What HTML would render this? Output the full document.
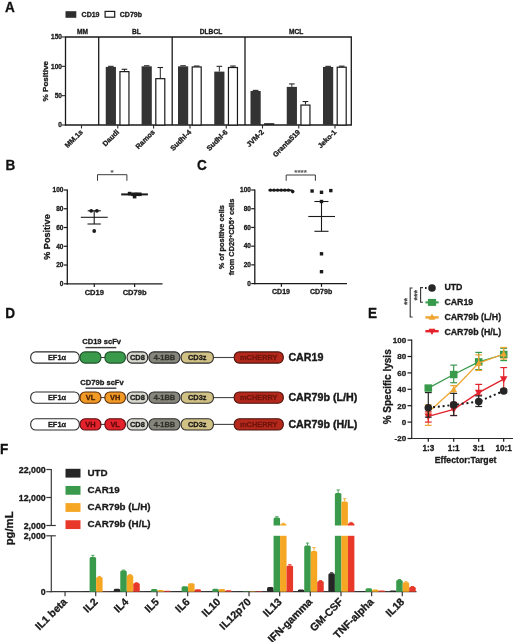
<!DOCTYPE html>
<html lang="en">
<head>
<meta charset="utf-8">
<title>Figure</title>
<style>
html,body{margin:0;padding:0;background:#fff;}
body{width:520px;height:642px;overflow:hidden;font-family:"Liberation Sans",sans-serif;}
svg{display:block;font-family:"Liberation Sans",sans-serif;filter:blur(0.35px);}
</style>
</head>
<body>
<svg width="520" height="642" viewBox="0 0 520 642">
<rect x="0" y="0" width="520" height="642" fill="#ffffff"/>
<text transform="translate(5.0 12.4) scale(0.925 1)" x="0" y="0" font-size="14.7" font-weight="bold" fill="#111" stroke="#111" stroke-width="0.3">A</text>
<text transform="translate(5.5 170.1) scale(0.925 1)" x="0" y="0" font-size="14.7" font-weight="bold" fill="#111" stroke="#111" stroke-width="0.3">B</text>
<text transform="translate(196.9 170.3) scale(0.925 1)" x="0" y="0" font-size="14.7" font-weight="bold" fill="#111" stroke="#111" stroke-width="0.3">C</text>
<text transform="translate(5.25 318.0) scale(0.925 1)" x="0" y="0" font-size="14.7" font-weight="bold" fill="#111" stroke="#111" stroke-width="0.3">D</text>
<text transform="translate(367.9 318.0) scale(0.925 1)" x="0" y="0" font-size="14.7" font-weight="bold" fill="#111" stroke="#111" stroke-width="0.3">E</text>
<text transform="translate(0.0 453.6) scale(0.925 1)" x="0" y="0" font-size="14.7" font-weight="bold" fill="#111" stroke="#111" stroke-width="0.3">F</text>
<rect x="65.50" y="11.20" width="10.80" height="6.60" fill="#2e2e2e" stroke="none" stroke-width="1" rx="0" />
<text x="81.60" y="16.60" font-size="7.0" text-anchor="start" fill="#1a1a1a" stroke="#1a1a1a" stroke-width="0.3" font-weight="bold" >CD19</text>
<rect x="105.10" y="11.40" width="9.60" height="5.80" fill="#fff" stroke="#1a1a1a" stroke-width="1.2" rx="0" />
<text x="119.80" y="16.60" font-size="7.0" text-anchor="start" fill="#1a1a1a" stroke="#1a1a1a" stroke-width="0.3" font-weight="bold" >CD79b</text>
<line x1="65.50" y1="36.40" x2="65.50" y2="125.60" stroke="#1a1a1a" stroke-width="1.3" />
<line x1="64.90" y1="125.00" x2="351.90" y2="125.00" stroke="#1a1a1a" stroke-width="1.3" />
<path d="M65.5 37.0H351.3V125.0" fill="none" stroke="#1a1a1a" stroke-width="1.3" stroke-linejoin="miter"/>
<line x1="98.70" y1="37.00" x2="98.70" y2="125.00" stroke="#1a1a1a" stroke-width="1.3" />
<line x1="172.20" y1="37.00" x2="172.20" y2="125.00" stroke="#1a1a1a" stroke-width="1.3" />
<line x1="245.00" y1="37.00" x2="245.00" y2="125.00" stroke="#1a1a1a" stroke-width="1.3" />
<line x1="61.50" y1="37.00" x2="65.50" y2="37.00" stroke="#2b2b2b" stroke-width="1.1" />
<text x="61.90" y="39.40" font-size="6.5" text-anchor="end" fill="#1a1a1a" stroke="#1a1a1a" stroke-width="0.3" font-weight="bold" >150</text>
<line x1="61.50" y1="66.33" x2="65.50" y2="66.33" stroke="#2b2b2b" stroke-width="1.1" />
<text x="61.90" y="68.73" font-size="6.5" text-anchor="end" fill="#1a1a1a" stroke="#1a1a1a" stroke-width="0.3" font-weight="bold" >100</text>
<line x1="61.50" y1="95.67" x2="65.50" y2="95.67" stroke="#2b2b2b" stroke-width="1.1" />
<text x="61.90" y="98.07" font-size="6.5" text-anchor="end" fill="#1a1a1a" stroke="#1a1a1a" stroke-width="0.3" font-weight="bold" >50</text>
<line x1="61.50" y1="125.00" x2="65.50" y2="125.00" stroke="#2b2b2b" stroke-width="1.1" />
<text x="61.90" y="127.40" font-size="6.5" text-anchor="end" fill="#1a1a1a" stroke="#1a1a1a" stroke-width="0.3" font-weight="bold" >0</text>
<text x="47.70" y="81.20" font-size="8.1" text-anchor="middle" fill="#1a1a1a" stroke="#1a1a1a" stroke-width="0.3" font-weight="bold" transform="rotate(-90 47.70 81.20)" >% Positive</text>
<text x="82.50" y="34.00" font-size="6.6" text-anchor="middle" fill="#1a1a1a" stroke="#1a1a1a" stroke-width="0.3" font-weight="bold" >MM</text>
<text x="136.30" y="34.00" font-size="6.6" text-anchor="middle" fill="#1a1a1a" stroke="#1a1a1a" stroke-width="0.3" font-weight="bold" >BL</text>
<text x="211.00" y="34.00" font-size="6.6" text-anchor="middle" fill="#1a1a1a" stroke="#1a1a1a" stroke-width="0.3" font-weight="bold" >DLBCL</text>
<text x="296.10" y="34.00" font-size="6.6" text-anchor="middle" fill="#1a1a1a" stroke="#1a1a1a" stroke-width="0.3" font-weight="bold" >MCL</text>
<line x1="81.50" y1="125.00" x2="81.50" y2="128.50" stroke="#2b2b2b" stroke-width="1.1" />
<text x="83.30" y="132.60" font-size="7.2" text-anchor="end" fill="#1a1a1a" stroke="#1a1a1a" stroke-width="0.3" font-weight="bold" transform="rotate(-45 83.30 132.60)" >MM.1s</text>
<line x1="117.75" y1="125.00" x2="117.75" y2="128.50" stroke="#2b2b2b" stroke-width="1.1" />
<text x="119.55" y="132.60" font-size="7.2" text-anchor="end" fill="#1a1a1a" stroke="#1a1a1a" stroke-width="0.3" font-weight="bold" transform="rotate(-45 119.55 132.60)" >Daudi</text>
<line x1="110.85" y1="66.33" x2="110.85" y2="66.92" stroke="#333" stroke-width="1" />
<line x1="108.05" y1="66.33" x2="113.65" y2="66.33" stroke="#2a2a2a" stroke-width="1.1" />
<rect x="105.75" y="66.92" width="10.20" height="58.08" fill="#333" stroke="none" stroke-width="1" rx="0" />
<line x1="124.45" y1="69.27" x2="124.45" y2="71.03" stroke="#222" stroke-width="1" />
<line x1="121.65" y1="69.27" x2="127.25" y2="69.27" stroke="#222" stroke-width="1.1" />
<rect x="119.95" y="71.63" width="9.00" height="53.37" fill="#fff" stroke="#1a1a1a" stroke-width="1.2" rx="0" />
<line x1="153.60" y1="125.00" x2="153.60" y2="128.50" stroke="#2b2b2b" stroke-width="1.1" />
<text x="155.40" y="132.60" font-size="7.2" text-anchor="end" fill="#1a1a1a" stroke="#1a1a1a" stroke-width="0.3" font-weight="bold" transform="rotate(-45 155.40 132.60)" >Ramos</text>
<line x1="146.70" y1="65.75" x2="146.70" y2="66.33" stroke="#333" stroke-width="1" />
<line x1="143.90" y1="65.75" x2="149.50" y2="65.75" stroke="#2a2a2a" stroke-width="1.1" />
<rect x="141.60" y="66.33" width="10.20" height="58.67" fill="#333" stroke="none" stroke-width="1" rx="0" />
<line x1="160.30" y1="67.51" x2="160.30" y2="78.07" stroke="#222" stroke-width="1" />
<line x1="157.50" y1="67.51" x2="163.10" y2="67.51" stroke="#222" stroke-width="1.1" />
<rect x="155.80" y="78.67" width="9.00" height="46.33" fill="#fff" stroke="#1a1a1a" stroke-width="1.2" rx="0" />
<line x1="190.00" y1="125.00" x2="190.00" y2="128.50" stroke="#2b2b2b" stroke-width="1.1" />
<text x="191.80" y="132.60" font-size="7.2" text-anchor="end" fill="#1a1a1a" stroke="#1a1a1a" stroke-width="0.3" font-weight="bold" transform="rotate(-45 191.80 132.60)" >Sudhl-4</text>
<line x1="183.10" y1="65.75" x2="183.10" y2="66.33" stroke="#333" stroke-width="1" />
<line x1="180.30" y1="65.75" x2="185.90" y2="65.75" stroke="#2a2a2a" stroke-width="1.1" />
<rect x="178.00" y="66.33" width="10.20" height="58.67" fill="#333" stroke="none" stroke-width="1" rx="0" />
<line x1="196.70" y1="66.04" x2="196.70" y2="66.33" stroke="#222" stroke-width="1" />
<line x1="193.90" y1="66.04" x2="199.50" y2="66.04" stroke="#222" stroke-width="1.1" />
<rect x="192.20" y="66.93" width="9.00" height="58.07" fill="#fff" stroke="#1a1a1a" stroke-width="1.2" rx="0" />
<line x1="226.25" y1="125.00" x2="226.25" y2="128.50" stroke="#2b2b2b" stroke-width="1.1" />
<text x="228.05" y="132.60" font-size="7.2" text-anchor="end" fill="#1a1a1a" stroke="#1a1a1a" stroke-width="0.3" font-weight="bold" transform="rotate(-45 228.05 132.60)" >Sudhl-6</text>
<line x1="219.35" y1="66.33" x2="219.35" y2="71.61" stroke="#333" stroke-width="1" />
<line x1="216.55" y1="66.33" x2="222.15" y2="66.33" stroke="#2a2a2a" stroke-width="1.1" />
<rect x="214.25" y="71.61" width="10.20" height="53.39" fill="#333" stroke="none" stroke-width="1" rx="0" />
<line x1="232.95" y1="66.04" x2="232.95" y2="66.92" stroke="#222" stroke-width="1" />
<line x1="230.15" y1="66.04" x2="235.75" y2="66.04" stroke="#222" stroke-width="1.1" />
<rect x="228.45" y="67.52" width="9.00" height="57.48" fill="#fff" stroke="#1a1a1a" stroke-width="1.2" rx="0" />
<line x1="262.50" y1="125.00" x2="262.50" y2="128.50" stroke="#2b2b2b" stroke-width="1.1" />
<text x="264.30" y="132.60" font-size="7.2" text-anchor="end" fill="#1a1a1a" stroke="#1a1a1a" stroke-width="0.3" font-weight="bold" transform="rotate(-45 264.30 132.60)" >JVM-2</text>
<line x1="255.60" y1="90.39" x2="255.60" y2="90.97" stroke="#333" stroke-width="1" />
<line x1="252.80" y1="90.39" x2="258.40" y2="90.39" stroke="#2a2a2a" stroke-width="1.1" />
<rect x="250.50" y="90.97" width="10.20" height="34.03" fill="#333" stroke="none" stroke-width="1" rx="0" />
<line x1="269.20" y1="124.41" x2="269.20" y2="124.41" stroke="#222" stroke-width="1" />
<line x1="266.40" y1="124.41" x2="272.00" y2="124.41" stroke="#222" stroke-width="1.1" />
<line x1="264.10" y1="124.11" x2="274.30" y2="124.11" stroke="#222" stroke-width="1.8" />
<line x1="298.75" y1="125.00" x2="298.75" y2="128.50" stroke="#2b2b2b" stroke-width="1.1" />
<text x="300.55" y="132.60" font-size="7.2" text-anchor="end" fill="#1a1a1a" stroke="#1a1a1a" stroke-width="0.3" font-weight="bold" transform="rotate(-45 300.55 132.60)" >Granta519</text>
<line x1="291.85" y1="83.93" x2="291.85" y2="86.87" stroke="#333" stroke-width="1" />
<line x1="289.05" y1="83.93" x2="294.65" y2="83.93" stroke="#2a2a2a" stroke-width="1.1" />
<rect x="286.75" y="86.87" width="10.20" height="38.13" fill="#333" stroke="none" stroke-width="1" rx="0" />
<line x1="305.45" y1="101.53" x2="305.45" y2="104.47" stroke="#222" stroke-width="1" />
<line x1="302.65" y1="101.53" x2="308.25" y2="101.53" stroke="#222" stroke-width="1.1" />
<rect x="300.95" y="105.07" width="9.00" height="19.93" fill="#fff" stroke="#1a1a1a" stroke-width="1.2" rx="0" />
<line x1="335.00" y1="125.00" x2="335.00" y2="128.50" stroke="#2b2b2b" stroke-width="1.1" />
<text x="336.80" y="132.60" font-size="7.2" text-anchor="end" fill="#1a1a1a" stroke="#1a1a1a" stroke-width="0.3" font-weight="bold" transform="rotate(-45 336.80 132.60)" >Jeko-1</text>
<line x1="328.10" y1="66.33" x2="328.10" y2="66.92" stroke="#333" stroke-width="1" />
<line x1="325.30" y1="66.33" x2="330.90" y2="66.33" stroke="#2a2a2a" stroke-width="1.1" />
<rect x="323.00" y="66.92" width="10.20" height="58.08" fill="#333" stroke="none" stroke-width="1" rx="0" />
<line x1="341.70" y1="66.16" x2="341.70" y2="66.63" stroke="#222" stroke-width="1" />
<line x1="338.90" y1="66.16" x2="344.50" y2="66.16" stroke="#222" stroke-width="1.1" />
<rect x="337.20" y="67.23" width="9.00" height="57.77" fill="#fff" stroke="#1a1a1a" stroke-width="1.2" rx="0" />
<line x1="67.30" y1="189.40" x2="67.30" y2="284.40" stroke="#1a1a1a" stroke-width="1.3" />
<line x1="66.70" y1="283.80" x2="162.50" y2="283.80" stroke="#1a1a1a" stroke-width="1.3" />
<line x1="63.70" y1="283.80" x2="67.30" y2="283.80" stroke="#1a1a1a" stroke-width="1.2" />
<text x="63.40" y="286.10" font-size="6.5" text-anchor="end" fill="#1a1a1a" stroke="#1a1a1a" stroke-width="0.3" font-weight="bold" >0</text>
<line x1="63.70" y1="265.04" x2="67.30" y2="265.04" stroke="#1a1a1a" stroke-width="1.2" />
<text x="63.40" y="267.34" font-size="6.5" text-anchor="end" fill="#1a1a1a" stroke="#1a1a1a" stroke-width="0.3" font-weight="bold" >20</text>
<line x1="63.70" y1="246.28" x2="67.30" y2="246.28" stroke="#1a1a1a" stroke-width="1.2" />
<text x="63.40" y="248.58" font-size="6.5" text-anchor="end" fill="#1a1a1a" stroke="#1a1a1a" stroke-width="0.3" font-weight="bold" >40</text>
<line x1="63.70" y1="227.52" x2="67.30" y2="227.52" stroke="#1a1a1a" stroke-width="1.2" />
<text x="63.40" y="229.82" font-size="6.5" text-anchor="end" fill="#1a1a1a" stroke="#1a1a1a" stroke-width="0.3" font-weight="bold" >60</text>
<line x1="63.70" y1="208.76" x2="67.30" y2="208.76" stroke="#1a1a1a" stroke-width="1.2" />
<text x="63.40" y="211.06" font-size="6.5" text-anchor="end" fill="#1a1a1a" stroke="#1a1a1a" stroke-width="0.3" font-weight="bold" >80</text>
<line x1="63.70" y1="190.00" x2="67.30" y2="190.00" stroke="#1a1a1a" stroke-width="1.2" />
<text x="63.40" y="192.30" font-size="6.5" text-anchor="end" fill="#1a1a1a" stroke="#1a1a1a" stroke-width="0.3" font-weight="bold" >100</text>
<text x="49.60" y="237.00" font-size="9.1" text-anchor="middle" fill="#1a1a1a" stroke="#1a1a1a" stroke-width="0.3" font-weight="bold" transform="rotate(-90 49.60 237.00)" >% Positive</text>
<line x1="94.30" y1="283.80" x2="94.30" y2="287.00" stroke="#1a1a1a" stroke-width="1.2" />
<text x="94.30" y="295.40" font-size="7.5" text-anchor="middle" fill="#1a1a1a" stroke="#1a1a1a" stroke-width="0.3" font-weight="bold" >CD19</text>
<line x1="134.60" y1="283.80" x2="134.60" y2="287.00" stroke="#1a1a1a" stroke-width="1.2" />
<text x="134.60" y="295.40" font-size="7.5" text-anchor="middle" fill="#1a1a1a" stroke="#1a1a1a" stroke-width="0.3" font-weight="bold" >CD79b</text>
<path d="M97.5 180.8V174.7H126.9V180.8" fill="none" stroke="#3a3a3a" stroke-width="1"/>
<text x="112.00" y="175.00" font-size="8" text-anchor="middle" fill="#555" stroke="#555" stroke-width="0.1" font-weight="bold" >*</text>
<line x1="80.80" y1="217.30" x2="107.70" y2="217.30" stroke="#1a1a1a" stroke-width="1.1" />
<line x1="94.20" y1="210.80" x2="94.20" y2="224.00" stroke="#1a1a1a" stroke-width="1.1" />
<line x1="87.70" y1="210.80" x2="100.80" y2="210.80" stroke="#1a1a1a" stroke-width="1.1" />
<line x1="87.50" y1="224.00" x2="100.80" y2="224.00" stroke="#1a1a1a" stroke-width="1.1" />
<circle cx="91.20" cy="210.80" r="1.9" fill="#1a1a1a"/>
<circle cx="96.90" cy="210.80" r="1.9" fill="#1a1a1a"/>
<circle cx="94.20" cy="231.00" r="1.9" fill="#1a1a1a"/>
<line x1="121.20" y1="194.40" x2="147.90" y2="194.40" stroke="#1a1a1a" stroke-width="2.0" />
<rect x="127.80" y="191.80" width="3.60" height="3.60" fill="#1a1a1a" stroke="none" stroke-width="1" rx="0" />
<rect x="131.20" y="192.50" width="3.60" height="3.60" fill="#1a1a1a" stroke="none" stroke-width="1" rx="0" />
<rect x="134.50" y="192.40" width="3.60" height="3.60" fill="#1a1a1a" stroke="none" stroke-width="1" rx="0" />
<rect x="138.00" y="192.50" width="3.60" height="3.60" fill="#1a1a1a" stroke="none" stroke-width="1" rx="0" />
<rect x="132.80" y="194.80" width="3.60" height="3.60" fill="#1a1a1a" stroke="none" stroke-width="1" rx="0" />
<line x1="254.80" y1="189.40" x2="254.80" y2="284.20" stroke="#1a1a1a" stroke-width="1.3" />
<line x1="254.20" y1="283.60" x2="347.00" y2="283.60" stroke="#1a1a1a" stroke-width="1.3" />
<line x1="251.20" y1="283.60" x2="254.80" y2="283.60" stroke="#1a1a1a" stroke-width="1.2" />
<text x="250.90" y="285.90" font-size="6.5" text-anchor="end" fill="#1a1a1a" stroke="#1a1a1a" stroke-width="0.3" font-weight="bold" >0</text>
<line x1="251.20" y1="264.88" x2="254.80" y2="264.88" stroke="#1a1a1a" stroke-width="1.2" />
<text x="250.90" y="267.18" font-size="6.5" text-anchor="end" fill="#1a1a1a" stroke="#1a1a1a" stroke-width="0.3" font-weight="bold" >20</text>
<line x1="251.20" y1="246.16" x2="254.80" y2="246.16" stroke="#1a1a1a" stroke-width="1.2" />
<text x="250.90" y="248.46" font-size="6.5" text-anchor="end" fill="#1a1a1a" stroke="#1a1a1a" stroke-width="0.3" font-weight="bold" >40</text>
<line x1="251.20" y1="227.44" x2="254.80" y2="227.44" stroke="#1a1a1a" stroke-width="1.2" />
<text x="250.90" y="229.74" font-size="6.5" text-anchor="end" fill="#1a1a1a" stroke="#1a1a1a" stroke-width="0.3" font-weight="bold" >60</text>
<line x1="251.20" y1="208.72" x2="254.80" y2="208.72" stroke="#1a1a1a" stroke-width="1.2" />
<text x="250.90" y="211.02" font-size="6.5" text-anchor="end" fill="#1a1a1a" stroke="#1a1a1a" stroke-width="0.3" font-weight="bold" >80</text>
<line x1="251.20" y1="190.00" x2="254.80" y2="190.00" stroke="#1a1a1a" stroke-width="1.2" />
<text x="250.90" y="192.30" font-size="6.5" text-anchor="end" fill="#1a1a1a" stroke="#1a1a1a" stroke-width="0.3" font-weight="bold" >100</text>
<text x="224.00" y="237.10" font-size="7.4" text-anchor="middle" fill="#1a1a1a" stroke="#1a1a1a" stroke-width="0.3" font-weight="bold" transform="rotate(-90 224.00 237.10)" >% of positive cells</text>
<text x="234.3" y="236.9" font-size="7.4" text-anchor="middle" font-weight="bold" fill="#1a1a1a" stroke="#1a1a1a" stroke-width="0.3" transform="rotate(-90 234.3 236.9)">from CD20<tspan font-size="5" dy="-2.4">+</tspan><tspan dy="2.4">CD5</tspan><tspan font-size="5" dy="-2.4">+</tspan><tspan dy="2.4"> cells</tspan></text>
<line x1="281.40" y1="283.60" x2="281.40" y2="286.80" stroke="#1a1a1a" stroke-width="1.2" />
<text x="281.00" y="293.60" font-size="7.0" text-anchor="middle" fill="#1a1a1a" stroke="#1a1a1a" stroke-width="0.3" font-weight="bold" >CD19</text>
<line x1="321.50" y1="283.60" x2="321.50" y2="286.80" stroke="#1a1a1a" stroke-width="1.2" />
<text x="321.10" y="293.60" font-size="7.0" text-anchor="middle" fill="#1a1a1a" stroke="#1a1a1a" stroke-width="0.3" font-weight="bold" >CD79b</text>
<path d="M286.2 180.8V175H315.4V180.8" fill="none" stroke="#3a3a3a" stroke-width="1"/>
<text x="300.60" y="175.00" font-size="8" text-anchor="middle" fill="#555" stroke="#555" stroke-width="0.1" font-weight="bold" >****</text>
<line x1="268.50" y1="190.30" x2="292.50" y2="190.30" stroke="#1a1a1a" stroke-width="1.8" />
<circle cx="270.40" cy="190.10" r="1.7" fill="#1a1a1a"/>
<circle cx="274.00" cy="190.10" r="1.7" fill="#1a1a1a"/>
<circle cx="277.60" cy="190.10" r="1.7" fill="#1a1a1a"/>
<circle cx="281.20" cy="190.10" r="1.7" fill="#1a1a1a"/>
<circle cx="284.80" cy="190.10" r="1.7" fill="#1a1a1a"/>
<circle cx="288.40" cy="190.10" r="1.7" fill="#1a1a1a"/>
<circle cx="292.70" cy="191.60" r="1.8" fill="#1a1a1a"/>
<rect x="310.40" y="189.30" width="3.40" height="3.40" fill="#1a1a1a" stroke="none" stroke-width="1" rx="0" />
<rect x="319.80" y="190.60" width="3.40" height="3.40" fill="#1a1a1a" stroke="none" stroke-width="1" rx="0" />
<rect x="329.10" y="188.90" width="3.40" height="3.40" fill="#1a1a1a" stroke="none" stroke-width="1" rx="0" />
<rect x="319.80" y="199.80" width="3.40" height="3.40" fill="#1a1a1a" stroke="none" stroke-width="1" rx="0" />
<rect x="319.80" y="252.10" width="3.40" height="3.40" fill="#1a1a1a" stroke="none" stroke-width="1" rx="0" />
<rect x="319.80" y="270.00" width="3.40" height="3.40" fill="#1a1a1a" stroke="none" stroke-width="1" rx="0" />
<line x1="308.30" y1="216.50" x2="335.00" y2="216.50" stroke="#1a1a1a" stroke-width="1.1" />
<line x1="321.50" y1="201.50" x2="321.50" y2="231.30" stroke="#1a1a1a" stroke-width="1.1" />
<line x1="314.40" y1="201.50" x2="328.50" y2="201.50" stroke="#1a1a1a" stroke-width="1.1" />
<line x1="314.40" y1="231.30" x2="328.50" y2="231.30" stroke="#1a1a1a" stroke-width="1.1" />
<line x1="100.00" y1="357.50" x2="106.00" y2="357.50" stroke="#333" stroke-width="1" />
<line x1="213.00" y1="357.50" x2="234.00" y2="357.50" stroke="#444" stroke-width="1.1" />
<rect x="30.70" y="351.90" width="48.60" height="11.20" fill="#fff" stroke="#2a2a2a" stroke-width="1.1" rx="5.0" />
<text x="57.00" y="360.10" font-size="7.4" text-anchor="middle" fill="#1a1a1a" stroke="#1a1a1a" stroke-width="0.3" font-weight="bold" >EF1α</text>
<rect x="80.10" y="351.90" width="20.80" height="11.20" fill="#3a9a4c" stroke="#1e4f27" stroke-width="1.1" rx="5.0" />
<rect x="104.90" y="351.90" width="20.50" height="11.20" fill="#3a9a4c" stroke="#1e4f27" stroke-width="1.1" rx="5.0" />
<rect x="127.10" y="351.90" width="20.60" height="11.20" fill="#d6d6cc" stroke="#2a2a2a" stroke-width="1.1" rx="5.0" />
<text x="137.40" y="360.10" font-size="7.4" text-anchor="middle" fill="#1a1a1a" stroke="#1a1a1a" stroke-width="0.3" font-weight="bold" >CD8</text>
<rect x="148.90" y="351.90" width="31.00" height="11.20" fill="#85857b" stroke="#2a2a2a" stroke-width="1.1" rx="5.0" />
<text x="164.40" y="360.10" font-size="7.4" text-anchor="middle" fill="#33332e" stroke="#33332e" stroke-width="0.3" font-weight="bold" >4-1BB</text>
<rect x="181.10" y="351.90" width="32.30" height="11.20" fill="#d2c184" stroke="#2a2a2a" stroke-width="1.1" rx="5.0" />
<text x="197.25" y="360.10" font-size="7.4" text-anchor="middle" fill="#1a1a1a" stroke="#1a1a1a" stroke-width="0.3" font-weight="bold" >CD3z</text>
<rect x="234.20" y="351.90" width="49.10" height="11.20" fill="#b5291d" stroke="#4a120c" stroke-width="1.1" rx="5.0" />
<text x="258.75" y="360.10" font-size="7.4" text-anchor="middle" fill="#70150c" stroke="#70150c" stroke-width="0.3" font-weight="bold" >mCHERRY</text>
<text x="288.40" y="361.20" font-size="10.7" text-anchor="start" fill="#1a1a1a" stroke="#1a1a1a" stroke-width="0.4" font-weight="bold" >CAR19</text>
<line x1="100.00" y1="397.60" x2="106.00" y2="397.60" stroke="#333" stroke-width="1" />
<line x1="213.00" y1="397.60" x2="234.00" y2="397.60" stroke="#444" stroke-width="1.1" />
<rect x="30.70" y="392.00" width="48.60" height="11.20" fill="#fff" stroke="#2a2a2a" stroke-width="1.1" rx="5.0" />
<text x="57.00" y="400.20" font-size="7.4" text-anchor="middle" fill="#1a1a1a" stroke="#1a1a1a" stroke-width="0.3" font-weight="bold" >EF1α</text>
<rect x="80.10" y="392.00" width="20.80" height="11.20" fill="#f29a26" stroke="#5a2a06" stroke-width="1.1" rx="5.0" />
<text x="90.50" y="400.20" font-size="7.4" text-anchor="middle" fill="#4a2204" stroke="#4a2204" stroke-width="0.3" font-weight="bold" >VL</text>
<rect x="104.90" y="392.00" width="20.50" height="11.20" fill="#f29a26" stroke="#5a2a06" stroke-width="1.1" rx="5.0" />
<text x="115.15" y="400.20" font-size="7.4" text-anchor="middle" fill="#4a2204" stroke="#4a2204" stroke-width="0.3" font-weight="bold" >VH</text>
<rect x="127.10" y="392.00" width="20.60" height="11.20" fill="#d6d6cc" stroke="#2a2a2a" stroke-width="1.1" rx="5.0" />
<text x="137.40" y="400.20" font-size="7.4" text-anchor="middle" fill="#1a1a1a" stroke="#1a1a1a" stroke-width="0.3" font-weight="bold" >CD8</text>
<rect x="148.90" y="392.00" width="31.00" height="11.20" fill="#85857b" stroke="#2a2a2a" stroke-width="1.1" rx="5.0" />
<text x="164.40" y="400.20" font-size="7.4" text-anchor="middle" fill="#33332e" stroke="#33332e" stroke-width="0.3" font-weight="bold" >4-1BB</text>
<rect x="181.10" y="392.00" width="32.30" height="11.20" fill="#d2c184" stroke="#2a2a2a" stroke-width="1.1" rx="5.0" />
<text x="197.25" y="400.20" font-size="7.4" text-anchor="middle" fill="#1a1a1a" stroke="#1a1a1a" stroke-width="0.3" font-weight="bold" >CD3z</text>
<rect x="234.20" y="392.00" width="49.10" height="11.20" fill="#b5291d" stroke="#4a120c" stroke-width="1.1" rx="5.0" />
<text x="258.75" y="400.20" font-size="7.4" text-anchor="middle" fill="#70150c" stroke="#70150c" stroke-width="0.3" font-weight="bold" >mCHERRY</text>
<text x="288.40" y="401.30" font-size="10.7" text-anchor="start" fill="#1a1a1a" stroke="#1a1a1a" stroke-width="0.4" font-weight="bold" >CAR79b (L/H)</text>
<line x1="100.00" y1="424.40" x2="106.00" y2="424.40" stroke="#333" stroke-width="1" />
<line x1="213.00" y1="424.40" x2="234.00" y2="424.40" stroke="#444" stroke-width="1.1" />
<rect x="30.70" y="418.80" width="48.60" height="11.20" fill="#fff" stroke="#2a2a2a" stroke-width="1.1" rx="5.0" />
<text x="57.00" y="427.00" font-size="7.4" text-anchor="middle" fill="#1a1a1a" stroke="#1a1a1a" stroke-width="0.3" font-weight="bold" >EF1α</text>
<rect x="80.10" y="418.80" width="20.80" height="11.20" fill="#e3222b" stroke="#5a0c10" stroke-width="1.1" rx="5.0" />
<text x="90.50" y="427.00" font-size="7.4" text-anchor="middle" fill="#5e0a0c" stroke="#5e0a0c" stroke-width="0.3" font-weight="bold" >VH</text>
<rect x="104.90" y="418.80" width="20.50" height="11.20" fill="#e3222b" stroke="#5a0c10" stroke-width="1.1" rx="5.0" />
<text x="115.15" y="427.00" font-size="7.4" text-anchor="middle" fill="#5e0a0c" stroke="#5e0a0c" stroke-width="0.3" font-weight="bold" >VL</text>
<rect x="127.10" y="418.80" width="20.60" height="11.20" fill="#d6d6cc" stroke="#2a2a2a" stroke-width="1.1" rx="5.0" />
<text x="137.40" y="427.00" font-size="7.4" text-anchor="middle" fill="#1a1a1a" stroke="#1a1a1a" stroke-width="0.3" font-weight="bold" >CD8</text>
<rect x="148.90" y="418.80" width="31.00" height="11.20" fill="#85857b" stroke="#2a2a2a" stroke-width="1.1" rx="5.0" />
<text x="164.40" y="427.00" font-size="7.4" text-anchor="middle" fill="#33332e" stroke="#33332e" stroke-width="0.3" font-weight="bold" >4-1BB</text>
<rect x="181.10" y="418.80" width="32.30" height="11.20" fill="#d2c184" stroke="#2a2a2a" stroke-width="1.1" rx="5.0" />
<text x="197.25" y="427.00" font-size="7.4" text-anchor="middle" fill="#1a1a1a" stroke="#1a1a1a" stroke-width="0.3" font-weight="bold" >CD3z</text>
<rect x="234.20" y="418.80" width="49.10" height="11.20" fill="#b5291d" stroke="#4a120c" stroke-width="1.1" rx="5.0" />
<text x="258.75" y="427.00" font-size="7.4" text-anchor="middle" fill="#70150c" stroke="#70150c" stroke-width="0.3" font-weight="bold" >mCHERRY</text>
<text x="288.40" y="428.10" font-size="10.7" text-anchor="start" fill="#1a1a1a" stroke="#1a1a1a" stroke-width="0.4" font-weight="bold" >CAR79b (H/L)</text>
<text x="101.60" y="344.00" font-size="7.6" text-anchor="middle" fill="#1a1a1a" stroke="#1a1a1a" stroke-width="0.3" font-weight="bold" >CD19 scFv</text>
<line x1="85.50" y1="347.60" x2="116.30" y2="347.60" stroke="#3a3a3a" stroke-width="1.4" />
<text x="102.00" y="385.20" font-size="7.6" text-anchor="middle" fill="#1a1a1a" stroke="#1a1a1a" stroke-width="0.3" font-weight="bold" >CD79b scFv</text>
<line x1="85.50" y1="388.20" x2="116.30" y2="388.20" stroke="#3a3a44" stroke-width="1.4" />
<line x1="411.70" y1="339.50" x2="411.70" y2="439.10" stroke="#2a2a2a" stroke-width="1.2" />
<line x1="411.10" y1="438.50" x2="513.00" y2="438.50" stroke="#2a2a2a" stroke-width="1.2" />
<line x1="407.50" y1="438.50" x2="411.70" y2="438.50" stroke="#1a1a1a" stroke-width="1.2" />
<text x="406.10" y="441.30" font-size="8.0" text-anchor="end" fill="#1a1a1a" stroke="#1a1a1a" stroke-width="0.3" font-weight="bold" >-20</text>
<line x1="407.50" y1="422.10" x2="411.70" y2="422.10" stroke="#1a1a1a" stroke-width="1.2" />
<text x="406.10" y="424.90" font-size="8.0" text-anchor="end" fill="#1a1a1a" stroke="#1a1a1a" stroke-width="0.3" font-weight="bold" >0</text>
<line x1="407.50" y1="405.70" x2="411.70" y2="405.70" stroke="#1a1a1a" stroke-width="1.2" />
<text x="406.10" y="408.50" font-size="8.0" text-anchor="end" fill="#1a1a1a" stroke="#1a1a1a" stroke-width="0.3" font-weight="bold" >20</text>
<line x1="407.50" y1="389.30" x2="411.70" y2="389.30" stroke="#1a1a1a" stroke-width="1.2" />
<text x="406.10" y="392.10" font-size="8.0" text-anchor="end" fill="#1a1a1a" stroke="#1a1a1a" stroke-width="0.3" font-weight="bold" >40</text>
<line x1="407.50" y1="372.90" x2="411.70" y2="372.90" stroke="#1a1a1a" stroke-width="1.2" />
<text x="406.10" y="375.70" font-size="8.0" text-anchor="end" fill="#1a1a1a" stroke="#1a1a1a" stroke-width="0.3" font-weight="bold" >60</text>
<line x1="407.50" y1="356.50" x2="411.70" y2="356.50" stroke="#1a1a1a" stroke-width="1.2" />
<text x="406.10" y="359.30" font-size="8.0" text-anchor="end" fill="#1a1a1a" stroke="#1a1a1a" stroke-width="0.3" font-weight="bold" >80</text>
<line x1="407.50" y1="340.10" x2="411.70" y2="340.10" stroke="#1a1a1a" stroke-width="1.2" />
<text x="406.10" y="342.90" font-size="8.0" text-anchor="end" fill="#1a1a1a" stroke="#1a1a1a" stroke-width="0.3" font-weight="bold" >100</text>
<text x="390.60" y="386.80" font-size="10.0" text-anchor="middle" fill="#1a1a1a" stroke="#1a1a1a" stroke-width="0.3" font-weight="bold" transform="rotate(-90 390.60 386.80)" >% Specific lysis</text>
<line x1="428.30" y1="438.50" x2="428.30" y2="441.70" stroke="#1a1a1a" stroke-width="1.2" />
<text x="428.30" y="450.80" font-size="8.2" text-anchor="middle" fill="#1a1a1a" stroke="#1a1a1a" stroke-width="0.3" font-weight="bold" >1:3</text>
<line x1="453.70" y1="438.50" x2="453.70" y2="441.70" stroke="#1a1a1a" stroke-width="1.2" />
<text x="453.70" y="450.80" font-size="8.2" text-anchor="middle" fill="#1a1a1a" stroke="#1a1a1a" stroke-width="0.3" font-weight="bold" >1:1</text>
<line x1="478.70" y1="438.50" x2="478.70" y2="441.70" stroke="#1a1a1a" stroke-width="1.2" />
<text x="478.70" y="450.80" font-size="8.2" text-anchor="middle" fill="#1a1a1a" stroke="#1a1a1a" stroke-width="0.3" font-weight="bold" >3:1</text>
<line x1="503.70" y1="438.50" x2="503.70" y2="441.70" stroke="#1a1a1a" stroke-width="1.2" />
<text x="503.70" y="450.80" font-size="8.2" text-anchor="middle" fill="#1a1a1a" stroke="#1a1a1a" stroke-width="0.3" font-weight="bold" >10:1</text>
<text x="465.60" y="463.30" font-size="8.7" text-anchor="middle" fill="#1a1a1a" stroke="#1a1a1a" stroke-width="0.3" font-weight="bold" >Effector:Target</text>
<line x1="428.30" y1="386.02" x2="428.30" y2="390.12" stroke="#3a9a4c" stroke-width="1.2" />
<line x1="424.90" y1="386.02" x2="431.70" y2="386.02" stroke="#3a9a4c" stroke-width="1.2" />
<line x1="424.90" y1="390.12" x2="431.70" y2="390.12" stroke="#3a9a4c" stroke-width="1.2" />
<line x1="453.70" y1="365.11" x2="453.70" y2="382.74" stroke="#3a9a4c" stroke-width="1.2" />
<line x1="450.30" y1="365.11" x2="457.10" y2="365.11" stroke="#3a9a4c" stroke-width="1.2" />
<line x1="450.30" y1="382.74" x2="457.10" y2="382.74" stroke="#3a9a4c" stroke-width="1.2" />
<line x1="478.70" y1="352.40" x2="478.70" y2="369.62" stroke="#3a9a4c" stroke-width="1.2" />
<line x1="475.30" y1="352.40" x2="482.10" y2="352.40" stroke="#3a9a4c" stroke-width="1.2" />
<line x1="475.30" y1="369.62" x2="482.10" y2="369.62" stroke="#3a9a4c" stroke-width="1.2" />
<line x1="503.70" y1="348.30" x2="503.70" y2="360.60" stroke="#3a9a4c" stroke-width="1.2" />
<line x1="500.30" y1="348.30" x2="507.10" y2="348.30" stroke="#3a9a4c" stroke-width="1.2" />
<line x1="500.30" y1="360.60" x2="507.10" y2="360.60" stroke="#3a9a4c" stroke-width="1.2" />
<polyline points="428.3,388.1 453.7,374.5 478.7,361.8 503.7,354.5" fill="none" stroke="#3a9a4c" stroke-width="1.3"/>
<rect x="424.50" y="384.37" width="7.60" height="7.40" fill="#3a9a4c" stroke="none" stroke-width="1" rx="0" />
<rect x="449.90" y="370.84" width="7.60" height="7.40" fill="#3a9a4c" stroke="none" stroke-width="1" rx="0" />
<rect x="474.90" y="358.13" width="7.60" height="7.40" fill="#3a9a4c" stroke="none" stroke-width="1" rx="0" />
<rect x="499.90" y="350.75" width="7.60" height="7.40" fill="#3a9a4c" stroke="none" stroke-width="1" rx="0" />
<line x1="428.30" y1="404.88" x2="428.30" y2="425.38" stroke="#eea633" stroke-width="1.2" />
<line x1="424.90" y1="404.88" x2="431.70" y2="404.88" stroke="#eea633" stroke-width="1.2" />
<line x1="424.90" y1="425.38" x2="431.70" y2="425.38" stroke="#eea633" stroke-width="1.2" />
<line x1="453.70" y1="385.61" x2="453.70" y2="393.40" stroke="#eea633" stroke-width="1.2" />
<line x1="450.30" y1="385.61" x2="457.10" y2="385.61" stroke="#eea633" stroke-width="1.2" />
<line x1="450.30" y1="393.40" x2="457.10" y2="393.40" stroke="#eea633" stroke-width="1.2" />
<line x1="478.70" y1="354.86" x2="478.70" y2="370.44" stroke="#eea633" stroke-width="1.2" />
<line x1="475.30" y1="354.86" x2="482.10" y2="354.86" stroke="#eea633" stroke-width="1.2" />
<line x1="475.30" y1="370.44" x2="482.10" y2="370.44" stroke="#eea633" stroke-width="1.2" />
<line x1="503.70" y1="347.48" x2="503.70" y2="358.96" stroke="#eea633" stroke-width="1.2" />
<line x1="500.30" y1="347.48" x2="507.10" y2="347.48" stroke="#eea633" stroke-width="1.2" />
<line x1="500.30" y1="358.96" x2="507.10" y2="358.96" stroke="#eea633" stroke-width="1.2" />
<polyline points="428.3,412.3 453.7,389.3 478.7,363.1 503.7,354.0" fill="none" stroke="#eea633" stroke-width="1.3"/>
<polygon points="425.1,414.9 431.5,414.9 428.3,408.9" fill="#eea633"/>
<polygon points="450.5,391.9 456.9,391.9 453.7,385.9" fill="#eea633"/>
<polygon points="475.5,365.7 481.9,365.7 478.7,359.7" fill="#eea633"/>
<polygon points="500.5,356.6 506.9,356.6 503.7,350.6" fill="#eea633"/>
<line x1="428.30" y1="411.85" x2="428.30" y2="422.10" stroke="#e3222b" stroke-width="1.2" />
<line x1="424.90" y1="411.85" x2="431.70" y2="411.85" stroke="#e3222b" stroke-width="1.2" />
<line x1="424.90" y1="422.10" x2="431.70" y2="422.10" stroke="#e3222b" stroke-width="1.2" />
<line x1="453.70" y1="402.42" x2="453.70" y2="415.54" stroke="#e3222b" stroke-width="1.2" />
<line x1="450.30" y1="402.42" x2="457.10" y2="402.42" stroke="#e3222b" stroke-width="1.2" />
<line x1="450.30" y1="415.54" x2="457.10" y2="415.54" stroke="#e3222b" stroke-width="1.2" />
<line x1="478.70" y1="384.38" x2="478.70" y2="395.04" stroke="#e3222b" stroke-width="1.2" />
<line x1="475.30" y1="384.38" x2="482.10" y2="384.38" stroke="#e3222b" stroke-width="1.2" />
<line x1="475.30" y1="395.04" x2="482.10" y2="395.04" stroke="#e3222b" stroke-width="1.2" />
<line x1="503.70" y1="367.57" x2="503.70" y2="389.30" stroke="#e3222b" stroke-width="1.2" />
<line x1="500.30" y1="367.57" x2="507.10" y2="367.57" stroke="#e3222b" stroke-width="1.2" />
<line x1="500.30" y1="389.30" x2="507.10" y2="389.30" stroke="#e3222b" stroke-width="1.2" />
<polyline points="428.3,416.4 453.7,409.4 478.7,392.6 503.7,379.1" fill="none" stroke="#e3222b" stroke-width="1.3"/>
<polygon points="424.5,413.5 432.1,413.5 428.3,420.3" fill="#e3222b"/>
<polygon points="449.9,406.5 457.5,406.5 453.7,413.3" fill="#e3222b"/>
<polygon points="474.9,389.7 482.5,389.7 478.7,396.5" fill="#e3222b"/>
<polygon points="499.9,376.2 507.5,376.2 503.7,382.9" fill="#e3222b"/>
<line x1="428.30" y1="392.58" x2="428.30" y2="417.18" stroke="#262626" stroke-width="1.2" />
<line x1="424.90" y1="392.58" x2="431.70" y2="392.58" stroke="#262626" stroke-width="1.2" />
<line x1="424.90" y1="417.18" x2="431.70" y2="417.18" stroke="#262626" stroke-width="1.2" />
<line x1="453.70" y1="393.40" x2="453.70" y2="415.54" stroke="#262626" stroke-width="1.2" />
<line x1="450.30" y1="393.40" x2="457.10" y2="393.40" stroke="#262626" stroke-width="1.2" />
<line x1="450.30" y1="415.54" x2="457.10" y2="415.54" stroke="#262626" stroke-width="1.2" />
<line x1="478.70" y1="395.86" x2="478.70" y2="406.52" stroke="#262626" stroke-width="1.2" />
<line x1="475.30" y1="395.86" x2="482.10" y2="395.86" stroke="#262626" stroke-width="1.2" />
<line x1="475.30" y1="406.52" x2="482.10" y2="406.52" stroke="#262626" stroke-width="1.2" />
<line x1="503.70" y1="389.30" x2="503.70" y2="392.58" stroke="#262626" stroke-width="1.2" />
<line x1="500.30" y1="389.30" x2="507.10" y2="389.30" stroke="#262626" stroke-width="1.2" />
<line x1="500.30" y1="392.58" x2="507.10" y2="392.58" stroke="#262626" stroke-width="1.2" />
<polyline points="428.3,407.8 453.7,404.9 478.7,401.6 503.7,390.9" fill="none" stroke="#1a1a1a" stroke-width="2" stroke-dasharray="2 2.8"/>
<circle cx="428.30" cy="407.75" r="3.8" fill="#262626"/>
<circle cx="453.70" cy="404.88" r="3.8" fill="#262626"/>
<circle cx="478.70" cy="401.60" r="3.8" fill="#262626"/>
<circle cx="503.70" cy="390.94" r="3.8" fill="#262626"/>
<circle cx="432.00" cy="288.00" r="3.8" fill="#262626"/>
<line x1="425.0" y1="288" x2="428.0" y2="288" stroke="#1a1a1a" stroke-width="2" stroke-dasharray="1.6 1.6"/>
<text x="444.40" y="290.40" font-size="8.8" text-anchor="start" fill="#1a1a1a" stroke="#1a1a1a" stroke-width="0.3" font-weight="bold" >UTD</text>
<line x1="425.40" y1="302.40" x2="438.70" y2="302.40" stroke="#3a9a4c" stroke-width="2" />
<rect x="427.90" y="298.90" width="8.20" height="7.00" fill="#3a9a4c" stroke="none" stroke-width="1" rx="0" />
<text x="444.40" y="305.10" font-size="8.8" text-anchor="start" fill="#1a1a1a" stroke="#1a1a1a" stroke-width="0.3" font-weight="bold" >CAR19</text>
<line x1="425.40" y1="317.40" x2="438.70" y2="317.40" stroke="#eea633" stroke-width="2.4" />
<polygon points="428.6,319.79999999999995 435.4,319.79999999999995 432.0,313.59999999999997" fill="#eea633"/>
<text x="444.40" y="320.10" font-size="8.8" text-anchor="start" fill="#1a1a1a" stroke="#1a1a1a" stroke-width="0.3" font-weight="bold" >CAR79b (L/H)</text>
<line x1="425.40" y1="331.20" x2="438.70" y2="331.20" stroke="#e3222b" stroke-width="2.4" />
<polygon points="428.6,328.8 435.4,328.8 432.0,335.0" fill="#e3222b"/>
<text x="444.40" y="334.90" font-size="8.8" text-anchor="start" fill="#1a1a1a" stroke="#1a1a1a" stroke-width="0.3" font-weight="bold" >CAR79b (H/L)</text>
<path d="M423 287.6H420.6V302.2H423" fill="none" stroke="#333" stroke-width="1.1"/>
<path d="M412.6 288H410.2V317H412.6" fill="none" stroke="#333" stroke-width="1.1"/>
<text x="420.40" y="295.30" font-size="9" text-anchor="middle" fill="#4a4a4a" stroke="#4a4a4a" stroke-width="0.15" font-weight="bold" transform="rotate(-90 420.40 295.30)" >***</text>
<text x="410.00" y="301.50" font-size="9" text-anchor="middle" fill="#4a4a4a" stroke="#4a4a4a" stroke-width="0.15" font-weight="bold" transform="rotate(-90 410.00 301.50)" >**</text>
<line x1="51.30" y1="468.90" x2="51.30" y2="525.50" stroke="#3a3a3a" stroke-width="1.2" />
<line x1="51.30" y1="535.80" x2="51.30" y2="592.30" stroke="#3a3a3a" stroke-width="1.2" />
<line x1="50.70" y1="591.70" x2="416.50" y2="591.70" stroke="#3a3a3a" stroke-width="1.2" />
<line x1="46.30" y1="469.50" x2="51.30" y2="469.50" stroke="#3a3a3a" stroke-width="1.2" />
<text x="45.70" y="472.60" font-size="8.8" text-anchor="end" fill="#1a1a1a" stroke="#1a1a1a" stroke-width="0.3" font-weight="bold" >22,000</text>
<line x1="46.30" y1="497.50" x2="51.30" y2="497.50" stroke="#3a3a3a" stroke-width="1.2" />
<text x="45.70" y="500.60" font-size="8.8" text-anchor="end" fill="#1a1a1a" stroke="#1a1a1a" stroke-width="0.3" font-weight="bold" >12,000</text>
<line x1="46.30" y1="525.50" x2="55.80" y2="525.50" stroke="#3a3a3a" stroke-width="1.2" />
<text x="45.70" y="528.60" font-size="8.8" text-anchor="end" fill="#1a1a1a" stroke="#1a1a1a" stroke-width="0.3" font-weight="bold" >2,000</text>
<line x1="46.30" y1="535.80" x2="55.80" y2="535.80" stroke="#3a3a3a" stroke-width="1.2" />
<text x="45.70" y="538.90" font-size="8.8" text-anchor="end" fill="#1a1a1a" stroke="#1a1a1a" stroke-width="0.3" font-weight="bold" >2,000</text>
<line x1="46.30" y1="591.70" x2="51.30" y2="591.70" stroke="#3a3a3a" stroke-width="1.2" />
<text x="45.70" y="594.80" font-size="8.8" text-anchor="end" fill="#1a1a1a" stroke="#1a1a1a" stroke-width="0.3" font-weight="bold" >0</text>
<text x="13.40" y="528.40" font-size="11.3" text-anchor="middle" fill="#1a1a1a" stroke="#1a1a1a" stroke-width="0.3" font-weight="bold" transform="rotate(-90 13.40 528.40)" >pg/mL</text>
<rect x="65.50" y="468.80" width="15.00" height="8.80" fill="#262626" stroke="none" stroke-width="1" rx="0" />
<text x="87.50" y="476.00" font-size="9.8" text-anchor="start" fill="#1a1a1a" stroke="#1a1a1a" stroke-width="0.3" font-weight="bold" >UTD</text>
<rect x="65.50" y="485.95" width="15.00" height="8.80" fill="#3a9a4c" stroke="none" stroke-width="1" rx="0" />
<text x="87.50" y="493.15" font-size="9.8" text-anchor="start" fill="#1a1a1a" stroke="#1a1a1a" stroke-width="0.3" font-weight="bold" >CAR19</text>
<rect x="65.50" y="503.10" width="15.00" height="8.80" fill="#f5a623" stroke="none" stroke-width="1" rx="0" />
<text x="87.50" y="510.30" font-size="9.8" text-anchor="start" fill="#1a1a1a" stroke="#1a1a1a" stroke-width="0.3" font-weight="bold" >CAR79b (L/H)</text>
<rect x="65.50" y="520.25" width="15.00" height="8.80" fill="#e8382a" stroke="none" stroke-width="1" rx="0" />
<text x="87.50" y="527.45" font-size="9.8" text-anchor="start" fill="#1a1a1a" stroke="#1a1a1a" stroke-width="0.3" font-weight="bold" >CAR79b (H/L)</text>
<line x1="65.05" y1="591.70" x2="65.05" y2="596.20" stroke="#3a3a3a" stroke-width="1.2" />
<text x="67.75" y="602.50" font-size="10.6" text-anchor="end" fill="#1a1a1a" stroke="#1a1a1a" stroke-width="0.3" font-weight="bold" transform="rotate(-45 67.75 602.50)" >IL1 beta</text>
<line x1="95.71" y1="591.70" x2="95.71" y2="596.20" stroke="#3a3a3a" stroke-width="1.2" />
<text x="98.41" y="602.50" font-size="10.6" text-anchor="end" fill="#1a1a1a" stroke="#1a1a1a" stroke-width="0.3" font-weight="bold" transform="rotate(-45 98.41 602.50)" >IL2</text>
<path d="M83.11 591.70V591.70Q83.11 591.31 83.50 591.31H89.22Q89.61 591.31 89.61 591.70V591.70Z" fill="#262626"/>
<line x1="92.86" y1="555.34" x2="92.86" y2="557.01" stroke="#3a9a4c" stroke-width="0.9" />
<line x1="91.26" y1="555.34" x2="94.46" y2="555.34" stroke="#3a9a4c" stroke-width="0.9" />
<path d="M89.61 591.70V558.51Q89.61 557.01 91.11 557.01H94.61Q96.11 557.01 96.11 558.51V591.70Z" fill="#3a9a4c"/>
<line x1="99.36" y1="576.41" x2="99.36" y2="576.97" stroke="#f5a623" stroke-width="0.9" />
<line x1="97.76" y1="576.41" x2="100.96" y2="576.41" stroke="#f5a623" stroke-width="0.9" />
<path d="M96.11 591.70V578.47Q96.11 576.97 97.61 576.97H101.11Q102.61 576.97 102.61 578.47V591.70Z" fill="#f5a623"/>
<path d="M102.61 591.70V591.70Q102.61 591.48 102.83 591.48H108.89Q109.11 591.48 109.11 591.70V591.70Z" fill="#e8382a"/>
<line x1="126.37" y1="591.70" x2="126.37" y2="596.20" stroke="#3a3a3a" stroke-width="1.2" />
<text x="129.07" y="602.50" font-size="10.6" text-anchor="end" fill="#1a1a1a" stroke="#1a1a1a" stroke-width="0.3" font-weight="bold" transform="rotate(-45 129.07 602.50)" >IL4</text>
<path d="M113.77 591.70V590.27Q113.77 588.77 115.27 588.77H118.77Q120.27 588.77 120.27 590.27V591.70Z" fill="#262626"/>
<line x1="123.52" y1="570.12" x2="123.52" y2="570.54" stroke="#3a9a4c" stroke-width="0.9" />
<line x1="121.92" y1="570.12" x2="125.12" y2="570.12" stroke="#3a9a4c" stroke-width="0.9" />
<path d="M120.27 591.70V572.04Q120.27 570.54 121.77 570.54H125.27Q126.77 570.54 126.77 572.04V591.70Z" fill="#3a9a4c"/>
<line x1="130.02" y1="574.59" x2="130.02" y2="575.01" stroke="#f5a623" stroke-width="0.9" />
<line x1="128.42" y1="574.59" x2="131.62" y2="574.59" stroke="#f5a623" stroke-width="0.9" />
<path d="M126.77 591.70V576.51Q126.77 575.01 128.27 575.01H131.77Q133.27 575.01 133.27 576.51V591.70Z" fill="#f5a623"/>
<line x1="136.52" y1="582.76" x2="136.52" y2="583.04" stroke="#e8382a" stroke-width="0.9" />
<line x1="134.92" y1="582.76" x2="138.12" y2="582.76" stroke="#e8382a" stroke-width="0.9" />
<path d="M133.27 591.70V584.54Q133.27 583.04 134.77 583.04H138.27Q139.77 583.04 139.77 584.54V591.70Z" fill="#e8382a"/>
<line x1="157.03" y1="591.70" x2="157.03" y2="596.20" stroke="#3a3a3a" stroke-width="1.2" />
<text x="159.73" y="602.50" font-size="10.6" text-anchor="end" fill="#1a1a1a" stroke="#1a1a1a" stroke-width="0.3" font-weight="bold" transform="rotate(-45 159.73 602.50)" >IL5</text>
<path d="M144.43 591.70V591.70Q144.43 591.28 144.85 591.28H150.51Q150.93 591.28 150.93 591.70V591.70Z" fill="#262626"/>
<path d="M150.93 591.70V590.54Q150.93 589.04 152.43 589.04H155.93Q157.43 589.04 157.43 590.54V591.70Z" fill="#3a9a4c"/>
<path d="M157.43 591.70V591.52Q157.43 590.02 158.93 590.02H162.43Q163.93 590.02 163.93 591.52V591.70Z" fill="#f5a623"/>
<path d="M163.93 591.70V591.70Q163.93 590.72 164.91 590.72H169.45Q170.43 590.72 170.43 591.70V591.70Z" fill="#e8382a"/>
<line x1="187.69" y1="591.70" x2="187.69" y2="596.20" stroke="#3a3a3a" stroke-width="1.2" />
<text x="190.39" y="602.50" font-size="10.6" text-anchor="end" fill="#1a1a1a" stroke="#1a1a1a" stroke-width="0.3" font-weight="bold" transform="rotate(-45 190.39 602.50)" >IL6</text>
<path d="M175.09 591.70V591.70Q175.09 591.28 175.51 591.28H181.17Q181.59 591.28 181.59 591.70V591.70Z" fill="#262626"/>
<path d="M181.59 591.70V587.75Q181.59 586.25 183.09 586.25H186.59Q188.09 586.25 188.09 587.75V591.70Z" fill="#3a9a4c"/>
<path d="M188.09 591.70V584.68Q188.09 583.18 189.59 583.18H193.09Q194.59 583.18 194.59 584.68V591.70Z" fill="#f5a623"/>
<path d="M194.59 591.70V590.82Q194.59 589.32 196.09 589.32H199.59Q201.09 589.32 201.09 590.82V591.70Z" fill="#e8382a"/>
<line x1="218.35" y1="591.70" x2="218.35" y2="596.20" stroke="#3a3a3a" stroke-width="1.2" />
<text x="221.05" y="602.50" font-size="10.6" text-anchor="end" fill="#1a1a1a" stroke="#1a1a1a" stroke-width="0.3" font-weight="bold" transform="rotate(-45 221.05 602.50)" >IL10</text>
<path d="M205.75 591.70V591.70Q205.75 591.28 206.17 591.28H211.83Q212.25 591.28 212.25 591.70V591.70Z" fill="#262626"/>
<path d="M212.25 591.70V590.13Q212.25 588.63 213.75 588.63H217.25Q218.75 588.63 218.75 590.13V591.70Z" fill="#3a9a4c"/>
<path d="M218.75 591.70V590.54Q218.75 589.04 220.25 589.04H223.75Q225.25 589.04 225.25 590.54V591.70Z" fill="#f5a623"/>
<path d="M225.25 591.70V591.66Q225.25 590.16 226.75 590.16H230.25Q231.75 590.16 231.75 591.66V591.70Z" fill="#e8382a"/>
<line x1="249.01" y1="591.70" x2="249.01" y2="596.20" stroke="#3a3a3a" stroke-width="1.2" />
<text x="251.71" y="602.50" font-size="10.6" text-anchor="end" fill="#1a1a1a" stroke="#1a1a1a" stroke-width="0.3" font-weight="bold" transform="rotate(-45 251.71 602.50)" >IL12p70</text>
<path d="M236.41 591.70V591.70Q236.41 591.48 236.63 591.48H242.69Q242.91 591.48 242.91 591.70V591.70Z" fill="#262626"/>
<path d="M242.91 591.70V591.70Q242.91 591.14 243.47 591.14H248.85Q249.41 591.14 249.41 591.70V591.70Z" fill="#3a9a4c"/>
<path d="M249.41 591.70V591.70Q249.41 591.20 249.91 591.20H255.41Q255.91 591.20 255.91 591.70V591.70Z" fill="#f5a623"/>
<path d="M255.91 591.70V591.70Q255.91 591.36 256.25 591.36H262.07Q262.41 591.36 262.41 591.70V591.70Z" fill="#e8382a"/>
<line x1="279.67" y1="591.70" x2="279.67" y2="596.20" stroke="#3a3a3a" stroke-width="1.2" />
<text x="282.37" y="602.50" font-size="10.6" text-anchor="end" fill="#1a1a1a" stroke="#1a1a1a" stroke-width="0.3" font-weight="bold" transform="rotate(-45 282.37 602.50)" >IL13</text>
<path d="M267.07 591.70V588.45Q267.07 586.95 268.57 586.95H272.07Q273.57 586.95 273.57 588.45V591.70Z" fill="#262626"/>
<line x1="276.82" y1="516.68" x2="276.82" y2="517.52" stroke="#3a9a4c" stroke-width="0.9" />
<line x1="275.22" y1="516.68" x2="278.42" y2="516.68" stroke="#3a9a4c" stroke-width="0.9" />
<rect x="273.57" y="535.80" width="6.50" height="55.90" fill="#3a9a4c" stroke="none" stroke-width="1" rx="0" />
<path d="M273.57 525.50V519.02Q273.57 517.52 275.07 517.52H278.57Q280.07 517.52 280.07 519.02V525.50Z" fill="#3a9a4c"/>
<line x1="283.32" y1="523.29" x2="283.32" y2="523.71" stroke="#f5a623" stroke-width="0.9" />
<line x1="281.72" y1="523.29" x2="284.92" y2="523.29" stroke="#f5a623" stroke-width="0.9" />
<rect x="280.07" y="535.80" width="6.50" height="55.90" fill="#f5a623" stroke="none" stroke-width="1" rx="0" />
<path d="M280.07 525.50V525.21Q280.07 523.71 281.57 523.71H285.07Q286.57 523.71 286.57 525.21V525.50Z" fill="#f5a623"/>
<line x1="289.82" y1="564.62" x2="289.82" y2="565.45" stroke="#e8382a" stroke-width="0.9" />
<line x1="288.22" y1="564.62" x2="291.42" y2="564.62" stroke="#e8382a" stroke-width="0.9" />
<path d="M286.57 591.70V566.95Q286.57 565.45 288.07 565.45H291.57Q293.07 565.45 293.07 566.95V591.70Z" fill="#e8382a"/>
<line x1="310.33" y1="591.70" x2="310.33" y2="596.20" stroke="#3a3a3a" stroke-width="1.2" />
<text x="313.03" y="602.50" font-size="10.6" text-anchor="end" fill="#1a1a1a" stroke="#1a1a1a" stroke-width="0.3" font-weight="bold" transform="rotate(-45 313.03 602.50)" >IFN-gamma</text>
<path d="M297.73 591.70V591.10Q297.73 589.60 299.23 589.60H302.73Q304.23 589.60 304.23 591.10V591.70Z" fill="#262626"/>
<line x1="307.48" y1="543.07" x2="307.48" y2="545.58" stroke="#3a9a4c" stroke-width="0.9" />
<line x1="305.88" y1="543.07" x2="309.08" y2="543.07" stroke="#3a9a4c" stroke-width="0.9" />
<path d="M304.23 591.70V547.08Q304.23 545.58 305.73 545.58H309.23Q310.73 545.58 310.73 547.08V591.70Z" fill="#3a9a4c"/>
<line x1="313.98" y1="547.54" x2="313.98" y2="550.89" stroke="#f5a623" stroke-width="0.9" />
<line x1="312.38" y1="547.54" x2="315.58" y2="547.54" stroke="#f5a623" stroke-width="0.9" />
<path d="M310.73 591.70V552.39Q310.73 550.89 312.23 550.89H315.73Q317.23 550.89 317.23 552.39V591.70Z" fill="#f5a623"/>
<line x1="320.48" y1="580.52" x2="320.48" y2="581.08" stroke="#e8382a" stroke-width="0.9" />
<line x1="318.88" y1="580.52" x2="322.08" y2="580.52" stroke="#e8382a" stroke-width="0.9" />
<path d="M317.23 591.70V582.58Q317.23 581.08 318.73 581.08H322.23Q323.73 581.08 323.73 582.58V591.70Z" fill="#e8382a"/>
<line x1="340.99" y1="591.70" x2="340.99" y2="596.20" stroke="#3a3a3a" stroke-width="1.2" />
<text x="343.69" y="602.50" font-size="10.6" text-anchor="end" fill="#1a1a1a" stroke="#1a1a1a" stroke-width="0.3" font-weight="bold" transform="rotate(-45 343.69 602.50)" >GM-CSF</text>
<line x1="331.64" y1="572.69" x2="331.64" y2="573.25" stroke="#262626" stroke-width="0.9" />
<line x1="330.04" y1="572.69" x2="333.24" y2="572.69" stroke="#262626" stroke-width="0.9" />
<path d="M328.39 591.70V574.75Q328.39 573.25 329.89 573.25H333.39Q334.89 573.25 334.89 574.75V591.70Z" fill="#262626"/>
<line x1="338.14" y1="489.94" x2="338.14" y2="493.02" stroke="#3a9a4c" stroke-width="0.9" />
<line x1="336.54" y1="489.94" x2="339.74" y2="489.94" stroke="#3a9a4c" stroke-width="0.9" />
<rect x="334.89" y="535.80" width="6.50" height="55.90" fill="#3a9a4c" stroke="none" stroke-width="1" rx="0" />
<path d="M334.89 525.50V494.52Q334.89 493.02 336.39 493.02H339.89Q341.39 493.02 341.39 494.52V525.50Z" fill="#3a9a4c"/>
<line x1="344.64" y1="498.70" x2="344.64" y2="501.50" stroke="#f5a623" stroke-width="0.9" />
<line x1="343.04" y1="498.70" x2="346.24" y2="498.70" stroke="#f5a623" stroke-width="0.9" />
<rect x="341.39" y="535.80" width="6.50" height="55.90" fill="#f5a623" stroke="none" stroke-width="1" rx="0" />
<path d="M341.39 525.50V503.00Q341.39 501.50 342.89 501.50H346.39Q347.89 501.50 347.89 503.00V525.50Z" fill="#f5a623"/>
<line x1="351.14" y1="522.42" x2="351.14" y2="522.98" stroke="#e8382a" stroke-width="0.9" />
<line x1="349.54" y1="522.42" x2="352.74" y2="522.42" stroke="#e8382a" stroke-width="0.9" />
<rect x="347.89" y="535.80" width="6.50" height="55.90" fill="#e8382a" stroke="none" stroke-width="1" rx="0" />
<path d="M347.89 525.50V524.48Q347.89 522.98 349.39 522.98H352.89Q354.39 522.98 354.39 524.48V525.50Z" fill="#e8382a"/>
<line x1="371.65" y1="591.70" x2="371.65" y2="596.20" stroke="#3a3a3a" stroke-width="1.2" />
<text x="374.35" y="602.50" font-size="10.6" text-anchor="end" fill="#1a1a1a" stroke="#1a1a1a" stroke-width="0.3" font-weight="bold" transform="rotate(-45 374.35 602.50)" >TNF-alpha</text>
<path d="M359.05 591.70V591.70Q359.05 591.28 359.47 591.28H365.13Q365.55 591.28 365.55 591.70V591.70Z" fill="#262626"/>
<path d="M365.55 591.70V589.85Q365.55 588.35 367.05 588.35H370.55Q372.05 588.35 372.05 589.85V591.70Z" fill="#3a9a4c"/>
<path d="M372.05 591.70V590.96Q372.05 589.46 373.55 589.46H377.05Q378.55 589.46 378.55 590.96V591.70Z" fill="#f5a623"/>
<path d="M378.55 591.70V591.70Q378.55 590.58 379.67 590.58H383.93Q385.05 590.58 385.05 591.70V591.70Z" fill="#e8382a"/>
<line x1="402.31" y1="591.70" x2="402.31" y2="596.20" stroke="#3a3a3a" stroke-width="1.2" />
<text x="405.01" y="602.50" font-size="10.6" text-anchor="end" fill="#1a1a1a" stroke="#1a1a1a" stroke-width="0.3" font-weight="bold" transform="rotate(-45 405.01 602.50)" >IL18</text>
<path d="M389.71 591.70V591.70Q389.71 590.58 390.83 590.58H395.09Q396.21 590.58 396.21 591.70V591.70Z" fill="#262626"/>
<line x1="399.46" y1="579.54" x2="399.46" y2="580.10" stroke="#3a9a4c" stroke-width="0.9" />
<line x1="397.86" y1="579.54" x2="401.06" y2="579.54" stroke="#3a9a4c" stroke-width="0.9" />
<path d="M396.21 591.70V581.60Q396.21 580.10 397.71 580.10H401.21Q402.71 580.10 402.71 581.60V591.70Z" fill="#3a9a4c"/>
<line x1="405.96" y1="581.78" x2="405.96" y2="582.20" stroke="#f5a623" stroke-width="0.9" />
<line x1="404.36" y1="581.78" x2="407.56" y2="581.78" stroke="#f5a623" stroke-width="0.9" />
<path d="M402.71 591.70V583.70Q402.71 582.20 404.21 582.20H407.71Q409.21 582.20 409.21 583.70V591.70Z" fill="#f5a623"/>
<line x1="412.46" y1="586.53" x2="412.46" y2="586.81" stroke="#e8382a" stroke-width="0.9" />
<line x1="410.86" y1="586.53" x2="414.06" y2="586.53" stroke="#e8382a" stroke-width="0.9" />
<path d="M409.21 591.70V588.31Q409.21 586.81 410.71 586.81H414.21Q415.71 586.81 415.71 588.31V591.70Z" fill="#e8382a"/>
</svg>
</body>
</html>
